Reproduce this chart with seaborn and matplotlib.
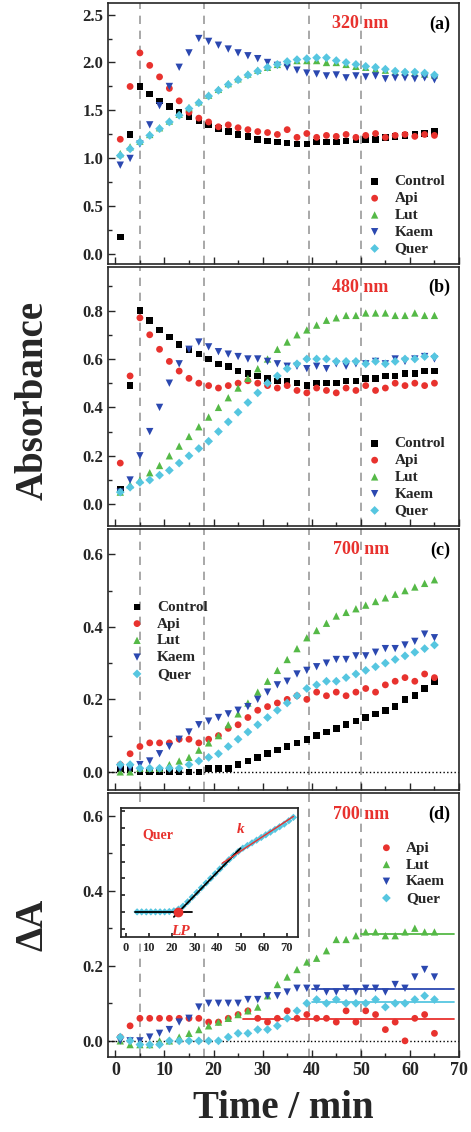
import numpy as np
import pandas as pd
import matplotlib
matplotlib.use("Agg")
import matplotlib.pyplot as plt
import seaborn as sns

sns.set_theme(style="ticks")
plt.rcParams['font.family'] = ['Liberation Serif', 'DejaVu Serif']
plt.rcParams['font.weight'] = 'bold'

time = [1,3,5,7,9,11,13,15,17,19,21,23,25,27,29,31,33,35,37,39,41,43,45,47,49,51,53,55,57,59,61,63,65]
series = ["Control", "Api", "Lut", "Kaem", "Quer"]

a_control = [0.18,1.25,1.75,1.67,1.6,1.54,1.48,1.43,1.39,1.35,1.31,1.28,1.25,1.23,1.2,1.18,1.17,1.16,1.15,1.15,1.17,1.17,1.17,1.18,1.19,1.2,1.2,1.22,1.23,1.24,1.25,1.26,1.28]
a_api = [1.2,1.75,2.1,1.97,1.85,1.73,1.6,1.48,1.42,1.38,1.33,1.35,1.32,1.3,1.28,1.27,1.25,1.3,1.22,1.26,1.22,1.24,1.23,1.25,1.22,1.24,1.26,1.22,1.24,1.25,1.23,1.25,1.24]
a_lut = [1.05,1.12,1.18,1.25,1.32,1.39,1.46,1.53,1.59,1.66,1.72,1.78,1.83,1.88,1.92,1.95,1.98,2.0,2.02,2.02,2.02,2.0,2.0,1.98,1.96,1.95,1.93,1.92,1.9,1.9,1.89,1.88,1.87]
a_kaem = [0.93,1.0,1.15,1.35,1.55,1.75,1.95,2.1,2.25,2.22,2.18,2.14,2.1,2.07,2.04,2.0,1.97,1.95,1.92,1.89,1.88,1.86,1.87,1.84,1.86,1.85,1.86,1.83,1.84,1.84,1.83,1.84,1.82]
a_quer = [1.03,1.1,1.17,1.24,1.31,1.38,1.45,1.52,1.58,1.65,1.71,1.77,1.82,1.87,1.91,1.95,1.98,2.01,2.03,2.04,2.05,2.05,2.02,2.0,1.98,1.96,1.95,1.93,1.91,1.9,1.9,1.89,1.87]

b_control = [0.06,0.49,0.8,0.76,0.72,0.69,0.66,0.64,0.62,0.6,0.58,0.57,0.55,0.54,0.53,0.52,0.51,0.51,0.5,0.49,0.5,0.5,0.5,0.51,0.51,0.52,0.52,0.53,0.53,0.54,0.54,0.55,0.55]
b_api = [0.17,0.53,0.77,0.7,0.64,0.59,0.55,0.52,0.5,0.49,0.48,0.49,0.5,0.51,0.5,0.49,0.48,0.49,0.47,0.46,0.48,0.47,0.46,0.48,0.47,0.49,0.47,0.48,0.5,0.49,0.5,0.49,0.5]
b_lut = [0.05,0.08,0.1,0.13,0.16,0.2,0.24,0.28,0.32,0.36,0.4,0.44,0.48,0.52,0.56,0.6,0.64,0.67,0.7,0.72,0.74,0.76,0.77,0.78,0.78,0.79,0.79,0.79,0.78,0.78,0.79,0.78,0.78]
b_kaem = [0.05,0.1,0.2,0.3,0.4,0.5,0.58,0.64,0.67,0.65,0.63,0.62,0.61,0.6,0.6,0.59,0.58,0.57,0.57,0.56,0.57,0.56,0.58,0.57,0.58,0.58,0.59,0.58,0.6,0.59,0.6,0.61,0.6]
b_quer = [0.05,0.07,0.09,0.1,0.12,0.14,0.17,0.2,0.23,0.26,0.3,0.34,0.38,0.42,0.46,0.5,0.53,0.56,0.58,0.6,0.6,0.6,0.59,0.59,0.59,0.58,0.59,0.58,0.59,0.6,0.6,0.61,0.61]

c_control = [0.01,0.01,0.0,0.0,0.0,0.0,0.0,0.0,0.0,0.01,0.01,0.01,0.02,0.03,0.04,0.05,0.06,0.07,0.08,0.09,0.1,0.11,0.12,0.13,0.14,0.15,0.16,0.17,0.18,0.2,0.21,0.23,0.25]
c_api = [0.02,0.05,0.07,0.08,0.08,0.08,0.09,0.09,0.08,0.09,0.1,0.12,0.13,0.15,0.17,0.18,0.19,0.2,0.21,0.2,0.22,0.21,0.22,0.21,0.22,0.23,0.22,0.24,0.25,0.26,0.25,0.27,0.26]
c_lut = [0.0,0.0,0.01,0.01,0.01,0.02,0.03,0.04,0.06,0.08,0.1,0.13,0.16,0.19,0.22,0.25,0.28,0.31,0.34,0.37,0.39,0.41,0.43,0.44,0.45,0.46,0.47,0.48,0.49,0.5,0.51,0.52,0.53]
c_kaem = [0.01,0.01,0.02,0.03,0.05,0.07,0.09,0.11,0.13,0.14,0.15,0.16,0.17,0.18,0.2,0.22,0.24,0.25,0.27,0.28,0.29,0.3,0.31,0.31,0.32,0.32,0.33,0.34,0.34,0.35,0.36,0.38,0.37]
c_quer = [0.02,0.02,0.01,0.01,0.01,0.01,0.01,0.02,0.03,0.04,0.05,0.07,0.09,0.11,0.13,0.15,0.17,0.19,0.21,0.23,0.24,0.25,0.25,0.26,0.27,0.28,0.29,0.3,0.31,0.32,0.33,0.34,0.35]

d_api = [0.01,0.04,0.06,0.06,0.06,0.06,0.06,0.06,0.06,0.05,0.05,0.06,0.07,0.08,0.06,0.05,0.06,0.08,0.06,0.07,0.06,0.06,0.05,0.08,0.05,0.08,0.07,0.03,0.05,0.0,0.06,0.07,0.02]
d_lut = [0.0,-0.01,-0.01,-0.01,0.0,0.0,0.01,0.02,0.03,0.04,0.05,0.06,0.07,0.08,0.09,0.12,0.15,0.17,0.19,0.21,0.22,0.24,0.27,0.27,0.28,0.29,0.29,0.28,0.28,0.29,0.3,0.29,0.29]
d_kaem = [0.0,0.0,0.0,0.01,0.02,0.03,0.05,0.06,0.09,0.1,0.1,0.1,0.1,0.11,0.11,0.12,0.12,0.13,0.14,0.14,0.14,0.13,0.13,0.14,0.13,0.14,0.14,0.13,0.15,0.14,0.17,0.19,0.17]
d_quer = [0.01,0.0,-0.01,-0.01,-0.01,0.0,0.0,0.0,0.0,0.0,0.0,0.01,0.02,0.02,0.03,0.03,0.04,0.06,0.08,0.1,0.11,0.1,0.11,0.1,0.1,0.1,0.11,0.09,0.1,0.1,0.11,0.12,0.11]
d_fit_level = {"Api": 0.057, "Lut": 0.285, "Kaem": 0.137, "Quer": 0.103}
d_fit_start = {"Api": 26, "Lut": 50, "Kaem": 40, "Quer": 40}

inset_t = [5,7,9,11,13,15,17,19,21,23,25,27,29,31,33,35,37,39,41,43,45,47,49,51,53,55,57,59,61,63,65,67,69,71,73]
inset_quer = [0.0,0.0,0.0,0.0,0.0,0.0,0.0,0.01,0.03,0.08,0.17,0.3,0.44,0.58,0.72,0.86,1.0,1.14,1.28,1.42,1.56,1.68,1.8,1.9,1.98,2.06,2.14,2.22,2.3,2.38,2.46,2.54,2.62,2.72,2.82]

colors = {"Control": "black", "Api": "#e8322e", "Lut": "#55b947", "Kaem": "#2b48b0", "Quer": "#56c6e0"}
markers = {"Control": "s", "Api": "o", "Lut": "^", "Kaem": "v", "Quer": "D"}
msize = {"Control": 22, "Api": 24, "Lut": 28, "Kaem": 28, "Quer": 20}

W, H = 471, 1132
fig = plt.figure(figsize=(W/100, H/100), dpi=100)
L, R = 108/W, 459/W
rows = [(3, 264), (267, 526), (529, 790), (793, 1057)]
axes = [fig.add_axes([L, 1-b/H, R-L, (b-t)/H]) for t, b in rows]

panels = [
    (axes[0], {"Control": a_control, "Api": a_api, "Lut": a_lut, "Kaem": a_kaem, "Quer": a_quer}, (-0.1, 2.62), np.arange(0, 2.6, 0.5), "320 nm", "(a)", "lower right"),
    (axes[1], {"Control": b_control, "Api": b_api, "Lut": b_lut, "Kaem": b_kaem, "Quer": b_quer}, (-0.09, 0.98), np.arange(0, 0.81, 0.2), "480 nm", "(b)", "lower right"),
    (axes[2], {"Control": c_control, "Api": c_api, "Lut": c_lut, "Kaem": c_kaem, "Quer": c_quer}, (-0.05, 0.67), np.arange(0, 0.61, 0.2), "700 nm", "(c)", "center left"),
    (axes[3], {"Api": d_api, "Lut": d_lut, "Kaem": d_kaem, "Quer": d_quer}, (-0.043, 0.66), np.arange(0, 0.61, 0.2), "700 nm", "(d)", "upper right"),
]
tf = dict(family='Liberation Serif', weight='bold')
for i, (ax, data, ylim, yt, nm, lab, loc) in enumerate(panels):
    for x in [5, 18, 39.5, 50]:
        ax.axvline(x, color="#999999", ls=(0, (5, 4)), lw=1.2, zorder=0)
    for s, vals in data.items():
        sns.scatterplot(x=time, y=vals, ax=ax, color=colors[s], marker=markers[s], s=msize[s],
                        edgecolor="none", label=s, zorder=3)
    if i == 3:
        for s in ["Api", "Lut", "Kaem", "Quer"]:
            ax.plot([d_fit_start[s], 69], [d_fit_level[s]]*2, color=colors[s], lw=1.3, zorder=2)
    if i >= 2:
        ax.axhline(0, color="black", ls=":", lw=1, zorder=1)
    ax.set_xlim(-1.5, 67.3)
    ax.set_ylim(*ylim)
    ax.set_yticks(yt)
    ax.set_yticklabels([f"{v:.1f}" for v in yt], **tf, fontsize=12)
    ax.set_xticks(np.arange(0, 71, 10))
    ax.set_xticks(np.arange(0, 71, 5), minor=True)
    ax.set_yticks(np.arange(0, ylim[1], (yt[1]-yt[0])/2), minor=True)
    ax.tick_params(direction="in", length=5, width=1, top=False, right=False)
    ax.tick_params(which="minor", direction="in", length=3)
    if i < 3:
        ax.set_xticklabels([])
    else:
        ax.set_xticklabels([str(v) for v in range(0, 71, 10)], **tf, fontsize=13)
    for sp in ax.spines.values():
        sp.set_linewidth(1.2)
    ax.text(0.80, 0.92, nm, transform=ax.transAxes, color="#e8322e", ha="right", va="center", fontsize=13, **tf)
    ax.text(0.975, 0.92, lab, transform=ax.transAxes, color="black", ha="right", va="center", fontsize=13, **tf)
    if loc == "upper right":
        leg = ax.legend(loc=loc, bbox_to_anchor=(1.0, 0.87), frameon=False, prop=dict(family='Liberation Serif', weight='bold', size=11),
                        handletextpad=0.3, labelspacing=0.2, markerscale=1.0)
    elif loc == "center left":
        leg = ax.legend(loc="upper left", bbox_to_anchor=(0.0, 0.78), frameon=False, prop=dict(family='Liberation Serif', weight='bold', size=11),
                        handletextpad=0.3, labelspacing=0.2)
    else:
        leg = ax.legend(loc=loc, bbox_to_anchor=(1.0, -0.02), frameon=False, prop=dict(family='Liberation Serif', weight='bold', size=11),
                        handletextpad=0.3, labelspacing=0.2)

# inset
ins = fig.add_axes([121/W, 1-937/H, (298-121)/W, (937-808)/H])
sns.scatterplot(x=inset_t, y=inset_quer, ax=ins, color=colors["Quer"], marker="D", s=14, edgecolor="none", zorder=2)
ins.plot([4, 29], [0, 0], color="black", lw=1.3, zorder=3)
ins.plot([21, 50], [-0.15, 1.9], color="black", lw=1.3, zorder=3)
ins.plot([42, 73], [1.45, 2.85], color="#e8322e", lw=1, zorder=3)
ins.plot([23], [0], marker="o", color="#e8322e", ms=6, zorder=4)
ins.set_xlim(-2, 75)
ins.set_ylim(-0.75, 3.1)
ins.set_xticks(np.arange(0, 71, 10))
ins.set_xticklabels([str(v) for v in range(0, 71, 10)], **tf, fontsize=9)
ins.set_yticks([-0.5, 0, 0.5, 1, 1.5, 2, 2.5, 3])
ins.set_yticklabels([])
ins.tick_params(direction="in", length=3)
ins.text(14, 2.2, "Quer", color="#e8322e", fontsize=10, ha="center", **tf)
ins.text(50, 2.35, "k", color="#e8322e", fontsize=11, ha="center", family='Liberation Serif', weight='bold', style='italic')
ins.text(24, -0.7, "LP", color="#e8322e", fontsize=11, ha="center", family='Liberation Serif', weight='bold', style='italic')

fig.text(0.07, 1-400/H, "Absorbance", rotation=90, ha="center", va="center", fontsize=28, **tf)
fig.text(0.07, 1-925/H, "ΔA", rotation=90, ha="center", va="center", fontsize=28, **tf)
fig.text((L+R)/2, 1-1108/H, "Time / min", ha="center", va="center", fontsize=28, **tf)

fig.savefig("out.png", dpi=100)
